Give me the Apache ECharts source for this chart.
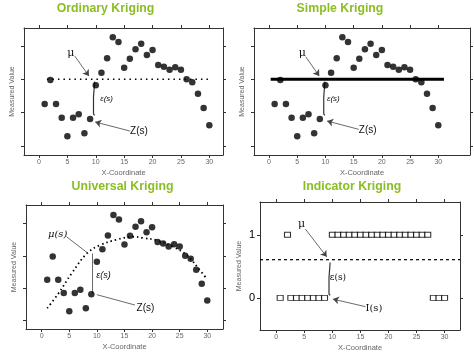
<!DOCTYPE html>
<html><head><meta charset="utf-8">
<script src="https://cdn.jsdelivr.net/npm/echarts@6/dist/echarts.min.js"></script>
<style>html,body{margin:0;padding:0;background:#fff}#c{width:474px;height:355px}</style>
</head><body><div id="c"></div>
<script>
// ---- data ----
const panelTitles = ['Ordinary Kriging', 'Simple Kriging', 'Universal Kriging', 'Indicator Kriging'];
const xTickLabels = [0, 5, 10, 15, 20, 25, 30];
const yTickValues = [1, 2, 3, 4];
const indicatorTicks = [0, 1];
const xCoord = [1,2,3,4,5,6,7,8,9,10,11,12,13,14,15,16,17,18,19,20,21,22,23,24,25,26,27,28,29,30];
const measured = [2.26,2.98,2.26,1.85,1.29,1.85,1.95,1.38,1.81,2.82,3.20,3.63,4.26,4.12,3.35,3.62,3.90,4.07,3.73,3.88,3.43,3.38,3.29,3.36,3.29,3.00,2.91,2.57,2.14,1.62];
const meanValue = 3.0;
const ordinaryMeanExtent = [1.4, 29.8];
const simpleMeanExtent = [0.3, 31.0];
const trendX = [1, 3, 5.4, 8.3, 10.6, 13.6, 16.6, 18.4, 20.8, 23.8, 26.3, 28.7, 29.9];
const trendY = [1.38, 1.83, 2.45, 3.09, 3.33, 3.50, 3.59, 3.55, 3.48, 3.28, 3.02, 2.55, 2.29];
const indicatorOneX = [2,10,11,12,13,14,15,16,17,18,19,20,21,22,23,24,25,26,27];
const indicatorZeroX = [0.7,2.6,3.6,4.6,5.6,6.6,7.6,8.6,28,29,30];
const indicatorThreshold = 0.605;

// ---- layout ----
const grids = [
  {left: 24, top: 28, width: 199, height: 127},
  {left: 254, top: 28, width: 216, height: 127},
  {left: 26, top: 205, width: 197, height: 124},
  {left: 260, top: 202, width: 200, height: 128}
];
const xRanges = [[-2.64, 32.41], [-2.66, 35.62], [-2.84, 32.85], [-2.9, 32.75]];
const yRanges = [[0.73, 4.54], [0.73, 4.54], [0.74, 4.57], [-0.51, 1.52]];
const titlePos = [[105.5, 3], [340, 3], [122.5, 180.5], [352, 180.5]];

const AX = '#333';
const xAxes = [], yAxes = [];
grids.forEach((g, i) => {
  xAxes.push({
    type: 'value', gridIndex: i, position: 'bottom', min: xRanges[i][0], max: xRanges[i][1],
    axisLine: {show: true, onZero: false, lineStyle: {color: AX, width: 1}},
    axisTick: {show: true, length: 3, customValues: xTickLabels, lineStyle: {color: AX}},
    axisLabel: {show: true, customValues: xTickLabels, fontSize: 7, color: '#666', margin: 4, fontFamily: 'Liberation Sans'},
    splitLine: {show: false},
    name: 'X-Coordinate', nameLocation: 'middle', nameGap: 14,
    nameTextStyle: {fontSize: 7.5, color: '#666', fontFamily: 'Liberation Sans'}
  });
  xAxes.push({
    type: 'value', gridIndex: i, position: 'top', min: xRanges[i][0], max: xRanges[i][1],
    axisLine: {show: true, onZero: false, lineStyle: {color: AX, width: 1}},
    axisTick: {show: true, length: 3, customValues: xTickLabels, lineStyle: {color: AX}},
    axisLabel: {show: false}, splitLine: {show: false}
  });
  const yt = i === 3 ? indicatorTicks : yTickValues;
  yAxes.push({
    type: 'value', gridIndex: i, position: 'left', min: yRanges[i][0], max: yRanges[i][1],
    axisLine: {show: true, onZero: false, lineStyle: {color: AX, width: 1}},
    axisTick: {show: true, length: 3, customValues: yt, lineStyle: {color: AX}},
    axisLabel: i === 3 ? {show: true, customValues: yt, fontSize: 11, color: '#000', margin: 5, fontFamily: 'Liberation Sans'} : {show: false},
    splitLine: {show: false},
    name: 'Measured Value', nameLocation: 'middle', nameGap: i === 3 ? 17 : 8, nameRotate: 90,
    nameTextStyle: {fontSize: 7, color: '#666', fontFamily: 'Liberation Sans'}
  });
  yAxes.push({
    type: 'value', gridIndex: i, position: 'right', min: yRanges[i][0], max: yRanges[i][1],
    axisLine: {show: true, onZero: false, lineStyle: {color: AX, width: 1}},
    axisTick: {show: true, length: 3, customValues: yt, lineStyle: {color: AX}},
    axisLabel: {show: false}, splitLine: {show: false}
  });
});

const pts = xCoord.map((x, k) => [x, measured[k]]);
const arrowLine = {color: '#444', width: 0.8, type: 'solid'};
function arrows(list) {
  return {
    silent: true, symbol: ['none', 'arrow'], symbolSize: 6, animation: false,
    lineStyle: arrowLine, label: {show: false},
    data: list.map(a => [{coord: a[0]}, {coord: a[1]}])
  };
}
function labels(list) {
  return {
    silent: true, symbol: 'circle', symbolSize: 0, animation: false,
    data: list.map(l => ({coord: l[0], value: l[1],
      label: {show: true, position: 'inside', formatter: l[1], color: '#111',
        fontSize: l[2], fontFamily: l[3] || 'Liberation Sans', fontStyle: l[4] || 'normal'}}))
  };
}
function brace(i, x, yTop, yBot) {
  const m = (yTop + yBot) / 2, d = (yTop - yBot) * 0.04;
  return {type: 'line', xAxisIndex: 2 * i, yAxisIndex: 2 * i, silent: true, symbol: 'none',
    lineStyle: {color: '#333', width: 1.2}, animation: false, z: 3,
    data: [[x + 0.2, yTop], [x, yTop - d], [x, m + d], [x - 0.3, m], [x, m - d], [x, yBot + d], [x + 0.2, yBot]]};
}

const series = [];
// Panel 1: ordinary kriging
series.push({type: 'line', xAxisIndex: 0, yAxisIndex: 0, symbol: 'none', silent: true, animation: false,
  lineStyle: {color: '#000', width: 1.5, type: [1.5, 4]},
  data: ordinaryMeanExtent.map(x => [x, meanValue])});
series.push({type: 'scatter', xAxisIndex: 0, yAxisIndex: 0, symbol: 'circle', symbolSize: 6.5,
  itemStyle: {color: '#000'}, data: pts, z: 5,
  markLine: arrows([[[6.3, 3.70], [8.8, 3.10]], [[16.0, 1.45], [9.9, 1.72]]]),
  markPoint: labels([[[5.6, 3.80], 'μ', 11, 'DejaVu Serif'], [[11.9, 2.41], 'ε(s)', 8, 'Liberation Sans', 'italic'], [[17.6, 1.43], 'Z(s)', 10]])});
series.push(brace(0, 9.6, 2.93, 1.92));
// Panel 2: simple kriging
series.push({type: 'line', xAxisIndex: 2, yAxisIndex: 2, symbol: 'none', silent: true, animation: false,
  lineStyle: {color: '#000', width: 3},
  data: simpleMeanExtent.map(x => [x, meanValue])});
series.push({type: 'scatter', xAxisIndex: 2, yAxisIndex: 2, symbol: 'circle', symbolSize: 6.5,
  itemStyle: {color: '#000'}, data: pts, z: 5,
  markLine: arrows([[[6.5, 3.68], [8.9, 3.10]], [[15.9, 1.50], [10.3, 1.75]]]),
  markPoint: labels([[[5.9, 3.80], 'μ', 11, 'DejaVu Serif'], [[11.4, 2.41], 'ε(s)', 8, 'Liberation Sans', 'italic'], [[17.5, 1.46], 'Z(s)', 10]])});
series.push(brace(1, 9.7, 2.93, 1.92));
// Panel 3: universal kriging
series.push({type: 'line', xAxisIndex: 4, yAxisIndex: 4, symbol: 'none', silent: true, animation: false, smooth: 0.4,
  lineStyle: {color: '#000', width: 1.8, type: [1.5, 3]},
  data: trendX.map((x, k) => [x, trendY[k]])});
series.push({type: 'scatter', xAxisIndex: 4, yAxisIndex: 4, symbol: 'circle', symbolSize: 6.5,
  itemStyle: {color: '#000'}, data: pts, z: 5,
  markLine: {silent: true, symbol: 'none', animation: false, lineStyle: arrowLine, label: {show: false},
    data: [[{coord: [4.5, 3.59]}, {coord: [8.3, 3.09]}], [{coord: [16.9, 1.48]}, {coord: [10.0, 1.80]}],
           [{coord: [9.2, 3.07]}, {coord: [9.2, 1.83]}]]},
  markPoint: labels([[[2.9, 3.66], 'μ(s)', 10, 'DejaVu Serif', 'italic'], [[11.2, 2.40], 'ε(s)', 9, 'Liberation Sans', 'italic'], [[18.8, 1.39], 'Z(s)', 10]])});
// Panel 4: indicator kriging
series.push({type: 'line', xAxisIndex: 6, yAxisIndex: 6, symbol: 'none', silent: true, animation: false,
  lineStyle: {color: '#000', width: 1.2, type: [3, 3]},
  data: xRanges[3].map(x => [x, indicatorThreshold])});
series.push({type: 'scatter', xAxisIndex: 6, yAxisIndex: 6, symbol: 'rect', symbolSize: [6, 5],
  itemStyle: {color: '#fff', borderColor: '#000', borderWidth: 1}, z: 5,
  data: indicatorOneX.map(x => [x, 1]).concat(indicatorZeroX.map(x => [x, 0])),
  markLine: arrows([[[5.2, 1.09], [9.0, 0.65]], [[15.9, -0.14], [10.1, -0.02]]]),
  markPoint: labels([[[4.5, 1.17], 'μ', 11, 'DejaVu Serif'], [[11.0, 0.32], 'ε(s)', 9, 'DejaVu Serif'], [[17.4, -0.17], 'I(s)', 10, 'DejaVu Serif']])});
series.push(brace(3, 9.4, 0.56, 0.04));

const option = {
  animation: false,
  backgroundColor: '#fff',
  graphic: panelTitles.map((t, i) => ({
    type: 'text', x: titlePos[i][0], y: titlePos[i][1], silent: true,
    style: {text: t, textAlign: 'center', textVerticalAlign: 'top', fill: '#8cbd23',
      font: 'bold 12.3px "Liberation Sans"'}
  })),
  grid: grids,
  xAxis: xAxes,
  yAxis: yAxes,
  series: series
};
const chart = echarts.init(document.getElementById('c'), null, {renderer: 'canvas'});
chart.setOption(option);
</script></body></html>
